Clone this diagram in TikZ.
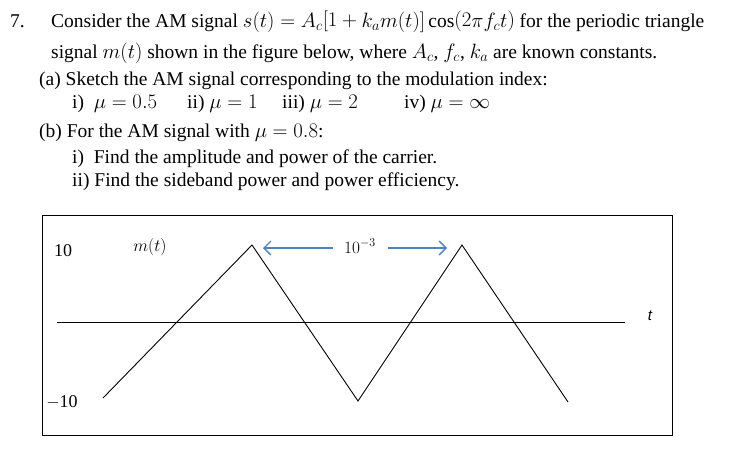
\documentclass[tikz,border=0pt]{standalone}
\usepackage{fontspec}
\setmainfont{Liberation Serif}
\newfontfamily\sansf{Liberation Sans}
\usetikzlibrary{arrows.meta}
\begin{document}
\begin{tikzpicture}[x=1pt,y=-1pt,
  txt/.style={anchor=base west,inner sep=0pt,font=\fontsize{19.5}{22}\selectfont},
  lab/.style={inner sep=0pt,font=\fontsize{18}{20}\selectfont},
  barrow/.style={draw={rgb,255:red,79;green,129;blue,189},line width=1.3pt,-{Straight Barb[length=7pt,width=14pt]}}]
\useasboundingbox (0,0) rectangle (754,450);
\node[txt] (l1a) at (10,27) {7.};
\node[txt] (l1) at (51,27) {Consider the AM signal $s(t)=A_c\bigl[1+k_a m(t)\bigr]\cos\bigl(2\pi f_c t\bigr)$ for the periodic triangle};
\node[txt] (l2) at (51,58) {signal $m(t)$ shown in the figure below, where $A_c$, $f_c$, $k_a$ are known constants.};
\node[txt] (l3) at (39,85) {(a) Sketch the AM signal corresponding to the modulation index:};
\node[txt] (l4a) at (72,108) {i)\ \ $\mu=0.5$};
\node[txt] (l4b) at (187,108) {ii) $\mu=1$};
\node[txt] (l4c) at (282,108) {iii) $\mu=2$};
\node[txt] (l4d) at (404,108) {iv) $\mu=\infty$};
\node[txt] (l5) at (39,137) {(b) For the AM signal with $\mu=0.8$:};
\node[txt] (l6) at (72,163) {i)\ \ Find the amplitude and power of the carrier.};
\node[txt] (l7) at (72,186) {ii)\ Find the sideband power and power efficiency.};
\node[draw,line width=1.2pt,minimum width=630pt,minimum height=220pt,anchor=north west,inner sep=0pt] (box) at (42,215) {};
\coordinate (a0) at (57,322);
\coordinate (a1) at (625,322);
\draw[line width=0.9pt] (a0) -- (a1);
\coordinate (s) at (103,398);
\coordinate (p1) at (252,245);
\coordinate (v) at (358,401);
\coordinate (p2) at (462,245);
\coordinate (e) at (568,402);
\draw[line width=0.9pt] (s) -- (p1) -- (v) -- (p2) -- (e);
\node[lab,font=\sansf\itshape\fontsize{15}{17}\selectfont] (t) at (650,316) {t};
\node[lab] (ten) at (63,251) {10};
\node[lab] (mten) at (62,402) {$-$10};
\node[lab] (m) at (150,247) {$m(t)$};
\node[lab] (per) at (360,246) {$10^{-3}$};
\coordinate (lt) at (333,248);
\coordinate (la) at (263,248);
\coordinate (rt) at (388,248);
\coordinate (ra) at (447,248);
\draw[barrow] (lt) -- (la);
\draw[barrow] (rt) -- (ra);
\end{tikzpicture}
\end{document}
